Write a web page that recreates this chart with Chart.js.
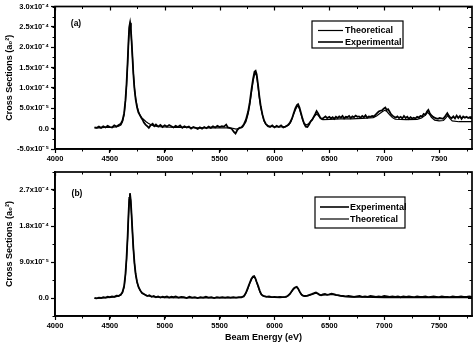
<!DOCTYPE html>
<html>
<head>
<meta charset="utf-8">
<script src="https://cdn.jsdelivr.net/npm/chart.js@4.4.1/dist/chart.umd.min.js"></script>
<style>
  html, body { margin: 0; padding: 0; background: #fff; }
  #wrap { position: relative; width: 474px; height: 345px; overflow: hidden; }
  #wrap canvas { position: absolute; left: 0; }
</style>
</head>
<body>
<div id="wrap">
  <canvas id="panelA" width="474" height="168" style="top:0px"></canvas>
  <canvas id="panelB" width="474" height="180" style="top:165px"></canvas>
</div>
<script>
// Cross sections are given in units of 1e-4 a0^2; energies in eV.

// ---- Panel (a) ----
const energyExpA = [4360,4380,4400,4420,4440,4460,4480,4500,4520,4540,4560,4580,4600,4615,4630,4642,4652,4662,4670,4677,4684,4691,4698,4706,4714,4724,4735,4748,4760,4772,4785,4798,4810,4825,4840,4855,4870,4890,4905,4920,4940,4960,4980,5000,5020,5040,5060,5080,5100,5120,5140,5160,5180,5200,5220,5240,5260,5280,5300,5320,5340,5360,5380,5400,5420,5440,5460,5480,5500,5520,5540,5560,5575,5590,5610,5630,5645,5660,5680,5700,5720,5740,5760,5775,5790,5805,5818,5828,5838,5850,5862,5875,5890,5905,5920,5940,5960,5980,6000,6020,6040,6060,6080,6100,6120,6140,6160,6175,6190,6205,6215,6228,6242,6256,6270,6285,6300,6315,6330,6345,6360,6372,6384,6396,6408,6420,6435,6450,6465,6480,6500,6515,6530,6545,6560,6575,6590,6605,6620,6635,6650,6665,6680,6695,6710,6725,6740,6755,6770,6785,6800,6815,6830,6845,6860,6875,6890,6905,6920,6935,6950,6965,6980,6995,7010,7022,7035,7048,7060,7075,7090,7105,7120,7135,7150,7165,7180,7195,7210,7225,7240,7255,7270,7285,7300,7315,7330,7345,7360,7375,7390,7402,7415,7428,7442,7458,7474,7490,7505,7520,7535,7550,7562,7575,7588,7600,7615,7630,7645,7660,7675,7690,7705,7720,7735,7750,7765,7780,7800];
const crossExpA  = [0.03,0.02,0.05,0.02,0.06,0.03,0.07,0.04,0.03,0.08,0.05,0.09,0.12,0.20,0.38,0.70,1.10,1.65,2.15,2.50,2.60,2.45,2.15,1.75,1.35,0.98,0.72,0.52,0.40,0.34,0.27,0.22,0.15,0.10,0.06,0.02,0.08,0.12,0.06,0.10,0.05,0.09,0.04,0.08,0.05,0.09,0.06,0.03,0.07,0.04,0.08,0.02,0.06,0.03,0.05,0.00,0.04,0.02,-0.01,0.03,0.00,0.04,0.01,0.05,0.02,0.06,0.03,0.07,0.04,0.06,0.05,0.10,0.03,0.02,0.00,-0.08,-0.12,-0.04,0.02,0.03,0.10,0.22,0.42,0.65,0.95,1.22,1.40,1.42,1.33,1.08,0.80,0.55,0.35,0.20,0.12,0.06,0.04,0.08,0.03,0.07,0.04,0.08,0.03,0.05,0.08,0.14,0.25,0.38,0.50,0.58,0.60,0.52,0.38,0.24,0.12,0.05,0.04,0.10,0.18,0.22,0.30,0.36,0.43,0.38,0.32,0.26,0.24,0.27,0.30,0.26,0.29,0.25,0.28,0.24,0.29,0.26,0.30,0.27,0.31,0.25,0.29,0.28,0.31,0.26,0.30,0.28,0.32,0.29,0.30,0.27,0.31,0.28,0.33,0.27,0.30,0.29,0.31,0.30,0.34,0.38,0.42,0.44,0.45,0.49,0.52,0.46,0.48,0.42,0.36,0.32,0.29,0.27,0.30,0.26,0.29,0.25,0.31,0.26,0.29,0.24,0.28,0.25,0.27,0.25,0.29,0.27,0.31,0.30,0.36,0.34,0.42,0.46,0.38,0.33,0.30,0.27,0.25,0.24,0.26,0.25,0.24,0.28,0.33,0.38,0.32,0.28,0.26,0.30,0.25,0.32,0.26,0.31,0.24,0.30,0.27,0.29,0.26,0.28,0.28];

const energyTheoA = [4360,4400,4450,4500,4550,4580,4600,4615,4630,4642,4652,4662,4670,4677,4684,4691,4698,4706,4714,4724,4735,4748,4760,4775,4790,4810,4830,4850,4870,4900,4950,5000,5100,5200,5300,5400,5500,5580,5620,5650,5680,5710,5740,5760,5775,5790,5805,5818,5828,5838,5850,5862,5875,5890,5905,5920,5950,6000,6050,6100,6130,6150,6170,6190,6205,6215,6228,6242,6256,6270,6290,6310,6330,6350,6370,6385,6400,6420,6440,6500,6600,6700,6800,6900,6930,6960,6985,7005,7025,7050,7075,7100,7200,7300,7340,7370,7395,7410,7430,7460,7500,7540,7560,7578,7595,7620,7680,7740,7800];
const crossTheoA  = [0.02,0.02,0.03,0.03,0.04,0.06,0.09,0.17,0.34,0.66,1.06,1.60,2.10,2.46,2.58,2.44,2.14,1.76,1.38,1.01,0.75,0.55,0.43,0.33,0.27,0.22,0.17,0.13,0.10,0.07,0.05,0.04,0.03,0.03,0.02,0.02,0.02,0.02,0.01,-0.01,0.01,0.04,0.17,0.36,0.58,0.88,1.16,1.33,1.36,1.28,1.04,0.76,0.52,0.33,0.19,0.11,0.06,0.04,0.04,0.05,0.09,0.17,0.32,0.46,0.54,0.55,0.48,0.35,0.22,0.13,0.09,0.12,0.18,0.25,0.32,0.36,0.32,0.25,0.22,0.23,0.24,0.24,0.25,0.27,0.31,0.37,0.42,0.45,0.42,0.34,0.27,0.23,0.22,0.23,0.26,0.32,0.40,0.36,0.28,0.21,0.19,0.20,0.26,0.32,0.26,0.19,0.17,0.17,0.17];

// ---- Panel (b) ----
const energyExpB = [4360,4380,4400,4420,4440,4460,4480,4500,4520,4540,4560,4580,4600,4615,4630,4642,4652,4662,4670,4677,4683,4690,4697,4705,4714,4724,4735,4748,4762,4777,4792,4810,4820,4840,4860,4880,4900,4920,4940,4960,4980,5000,5020,5040,5060,5080,5100,5125,5150,5175,5200,5225,5250,5275,5300,5325,5350,5375,5400,5425,5450,5475,5500,5525,5550,5575,5600,5625,5650,5675,5700,5720,5740,5760,5775,5790,5805,5815,5825,5838,5852,5866,5880,5900,5925,5950,5975,6000,6025,6050,6075,6100,6120,6140,6160,6175,6190,6203,6215,6230,6245,6260,6280,6300,6320,6340,6360,6378,6395,6410,6425,6440,6460,6480,6500,6520,6540,6560,6580,6600,6625,6650,6675,6700,6725,6750,6775,6800,6825,6850,6875,6900,6925,6950,6975,7000,7025,7050,7075,7100,7125,7150,7175,7200,7225,7250,7275,7300,7325,7350,7375,7400,7425,7450,7475,7500,7525,7550,7575,7600,7625,7650,7675,7700,7725,7750,7775,7800];
const crossExpB  = [0.00,-0.01,0.01,0.00,0.02,0.01,0.03,0.02,0.04,0.03,0.06,0.05,0.09,0.15,0.30,0.60,1.00,1.55,2.10,2.50,2.62,2.45,2.12,1.70,1.25,0.88,0.60,0.40,0.27,0.19,0.13,0.10,0.08,0.05,0.07,0.03,0.05,0.02,0.04,0.01,0.03,0.02,0.04,0.01,0.03,0.02,0.04,0.01,0.03,0.02,0.00,0.03,0.01,0.02,0.00,0.02,0.01,0.03,0.01,0.02,0.00,0.02,0.01,0.02,0.01,0.02,0.01,0.02,0.01,0.02,0.02,0.04,0.13,0.27,0.38,0.48,0.54,0.55,0.50,0.40,0.30,0.18,0.09,0.05,0.03,0.04,0.02,0.03,0.02,0.03,0.02,0.03,0.05,0.10,0.18,0.24,0.27,0.28,0.24,0.16,0.09,0.06,0.05,0.06,0.08,0.10,0.12,0.14,0.11,0.08,0.07,0.09,0.10,0.08,0.09,0.11,0.10,0.08,0.07,0.06,0.05,0.04,0.05,0.04,0.03,0.04,0.05,0.03,0.04,0.03,0.05,0.04,0.03,0.04,0.03,0.05,0.04,0.03,0.04,0.03,0.04,0.02,0.04,0.03,0.04,0.03,0.02,0.04,0.03,0.03,0.04,0.02,0.03,0.04,0.03,0.02,0.04,0.03,0.03,0.02,0.04,0.03,0.03,0.04,0.03,0.03,0.04,0.03];

const energyTheoB = [4360,4450,4550,4600,4615,4630,4642,4652,4662,4670,4677,4683,4690,4697,4705,4714,4724,4735,4748,4762,4777,4795,4850,4900,5000,5200,5400,5600,5700,5730,5755,5775,5795,5812,5825,5840,5855,5870,5890,5950,6050,6110,6140,6165,6185,6200,6215,6232,6250,6275,6310,6345,6375,6400,6430,6470,6520,6560,6620,6700,6800,7000,7200,7400,7600,7800];
const crossTheoB  = [-0.01,0.00,0.03,0.07,0.13,0.27,0.56,0.95,1.50,2.05,2.46,2.58,2.43,2.10,1.68,1.24,0.87,0.59,0.39,0.26,0.18,0.11,0.05,0.03,0.01,0.00,0.00,0.00,0.01,0.07,0.21,0.37,0.49,0.53,0.49,0.37,0.24,0.13,0.06,0.02,0.01,0.03,0.09,0.19,0.25,0.27,0.23,0.14,0.07,0.04,0.06,0.09,0.12,0.10,0.07,0.08,0.09,0.07,0.04,0.02,0.02,0.01,0.01,0.01,0.01,0.01];

// ---- Axis ticks and labels ----
const energyTicks = [4000,4500,5000,5500,6000,6500,7000,7500];
const energyTickLabels = ['4000','4500','5000','5500','6000','6500','7000','7500'];
const crossTicksA = [-0.5,0,0.5,1,1.5,2,2.5,3];
const crossTickLabelsA = ['-5.0x10\u207B\u2075','0.0','5.0x10\u207B\u2075','1.0x10\u207B\u2074','1.5x10\u207B\u2074','2.0x10\u207B\u2074','2.5x10\u207B\u2074','3.0x10\u207B\u2074'];
const crossTicksB = [0,0.9,1.8,2.7];
const crossTickLabelsB = ['0.0','9.0x10\u207B\u2075','1.8x10\u207B\u2074','2.7x10\u207B\u2074'];

const FONT = "'Liberation Sans', Arial, sans-serif";

const zip = (xs, ys) => xs.map((x, i) => ({ x: x, y: ys[i] }));

// Frame, minor/mirror ticks, inset legend and panel tag
const decorPlugin = {
  id: 'decor',
  afterDraw(chart, args, opts) {
    const ctx = chart.ctx;
    const a = chart.chartArea;
    const xs = chart.scales.x, ys = chart.scales.y;
    ctx.save();
    ctx.strokeStyle = '#000';
    ctx.fillStyle = '#000';

    // minor ticks (outward) on bottom and left axes, inward on top and right
    ctx.lineWidth = 1;
    ctx.beginPath();
    for (let v = xs.min; v <= xs.max + 1e-6; v += opts.xMinor) {
      const p = Math.round(xs.getPixelForValue(v)) + 0.5;
      ctx.moveTo(p, a.bottom); ctx.lineTo(p, a.bottom + 2.5);
      ctx.moveTo(p, a.top); ctx.lineTo(p, a.top + 2.5);
    }
    for (let k = 0; ; k++) {
      const v = opts.yMinorStart + k * opts.yMinor;
      if (v > ys.max + 1e-6) break;
      if (v < ys.min - 1e-6) continue;
      const p = Math.round(ys.getPixelForValue(v)) + 0.5;
      ctx.moveTo(a.left, p); ctx.lineTo(a.left - 2.5, p);
      ctx.moveTo(a.right, p); ctx.lineTo(a.right - 2.5, p);
    }
    ctx.stroke();

    // major mirror ticks on top and right edges
    ctx.lineWidth = 1.2;
    ctx.beginPath();
    xs.ticks.forEach(t => {
      const p = Math.round(xs.getPixelForValue(t.value)) + 0.5;
      ctx.moveTo(p, a.top); ctx.lineTo(p, a.top + 4);
    });
    ys.ticks.forEach(t => {
      const p = Math.round(ys.getPixelForValue(t.value)) + 0.5;
      ctx.moveTo(a.right, p); ctx.lineTo(a.right - 4, p);
    });
    ctx.stroke();

    // frame
    ctx.lineWidth = 1.7;
    ctx.strokeRect(a.left, a.top, a.right - a.left, a.bottom - a.top);

    // panel tag
    ctx.font = 'bold 8.5px ' + FONT;
    ctx.textAlign = 'center';
    ctx.textBaseline = 'middle';
    ctx.fillText(opts.tag, opts.tagX, opts.tagY);

    // inset legend
    const L = opts.legend;
    ctx.lineWidth = 1.2;
    ctx.strokeRect(L.x, L.y, L.w, L.h);
    ctx.font = 'bold 9px ' + FONT;
    ctx.textAlign = 'left';
    L.items.forEach((it, i) => {
      const y = L.firstRow + i * L.rowGap;
      ctx.lineWidth = it.width;
      ctx.beginPath();
      ctx.moveTo(L.x + L.lineFrom, y);
      ctx.lineTo(L.x + L.lineTo, y);
      ctx.stroke();
      ctx.fillText(it.text, L.x + L.textAt, y + 0.5);
    });
    ctx.restore();
  }
};

function makeChart(canvasId, cfg) {
  return new Chart(document.getElementById(canvasId), {
    type: 'line',
    data: {
      datasets: [
        { label: cfg.names[0], data: cfg.series[0], borderColor: '#000', borderWidth: cfg.widths[0], pointRadius: 0, tension: 0, fill: false },
        { label: cfg.names[1], data: cfg.series[1], borderColor: '#000', borderWidth: cfg.widths[1], pointRadius: 0, tension: 0, fill: false }
      ]
    },
    options: {
      responsive: false,
      animation: false,
      devicePixelRatio: 1,
      layout: { padding: { top: cfg.padTop, right: 2, left: 0, bottom: 0 } },
      plugins: {
        legend: { display: false },
        tooltip: { enabled: false },
        decor: cfg.decor
      },
      scales: {
        x: {
          type: 'linear',
          min: 4000, max: 7800,
          afterBuildTicks: s => { s.ticks = energyTicks.map(v => ({ value: v })); },
          afterFit: s => { s.height = cfg.xHeight; },
          ticks: {
            color: '#000', padding: 1, maxRotation: 0, autoSkip: false,
            font: { family: FONT, size: 7.5, weight: 'bold' },
            callback: (v, i) => energyTickLabels[i]
          },
          grid: { drawOnChartArea: false, drawTicks: true, tickLength: 4, tickWidth: 1.2, tickColor: '#000' },
          border: { display: true, color: '#000', width: 1.7 },
          title: {
            display: cfg.xTitle, text: 'Beam Energy (eV)', color: '#000',
            font: { family: FONT, size: 9, weight: 'bold' },
            padding: { top: 0, bottom: 2 }
          }
        },
        y: {
          min: cfg.yMin, max: cfg.yMax,
          afterBuildTicks: s => { s.ticks = cfg.yTicks.map(v => ({ value: v })); },
          afterFit: s => { s.width = 55; },
          ticks: {
            color: '#000', padding: 2,
            font: { family: FONT, size: 7.5, weight: 'bold' },
            callback: (v, i) => cfg.yLabels[i]
          },
          grid: { drawOnChartArea: false, drawTicks: true, tickLength: 4, tickWidth: 1.2, tickColor: '#000' },
          border: { display: true, color: '#000', width: 1.7 },
          title: {
            display: true, text: 'Cross Sections (a\u2080\u00B2)', color: '#000',
            font: { family: FONT, size: 9, weight: 'bold' },
            padding: { top: 4, bottom: 0 }
          }
        }
      }
    },
    plugins: [decorPlugin]
  });
}

makeChart('panelA', {
  names: ['Theoretical', 'Experimental'],
  series: [zip(energyTheoA, crossTheoA), zip(energyExpA, crossExpA)],
  widths: [1.2, 1.8],
  padTop: 5, xHeight: 19, xTitle: false,
  yMin: -0.5, yMax: 3.0, yTicks: crossTicksA, yLabels: crossTickLabelsA,
  decor: {
    xMinor: 250, yMinor: 0.25, yMinorStart: -0.5,
    tag: '(a)', tagX: 76, tagY: 24,
    legend: {
      x: 312, y: 21, w: 91, h: 27, firstRow: 30.5, rowGap: 11.5,
      lineFrom: 6, lineTo: 31, textAt: 33,
      items: [ { text: 'Theoretical', width: 1.2 }, { text: 'Experimental', width: 1.6 } ]
    }
  }
});

makeChart('panelB', {
  names: ['Theoretical', 'Experimental'],
  series: [zip(energyTheoB, crossTheoB), zip(energyExpB, crossExpB)],
  widths: [1.2, 1.8],
  padTop: 7, xHeight: 29, xTitle: true,
  yMin: -0.45, yMax: 3.15, yTicks: crossTicksB, yLabels: crossTickLabelsB,
  decor: {
    xMinor: 250, yMinor: 0.45, yMinorStart: -0.45,
    tag: '(b)', tagX: 77, tagY: 29,
    legend: {
      x: 315, y: 32, w: 90, h: 31, firstRow: 42, rowGap: 12,
      lineFrom: 5, lineTo: 34, textAt: 35,
      items: [ { text: 'Experimental', width: 1.6 }, { text: 'Theoretical', width: 1.2 } ]
    }
  }
});
</script>
</body>
</html>
